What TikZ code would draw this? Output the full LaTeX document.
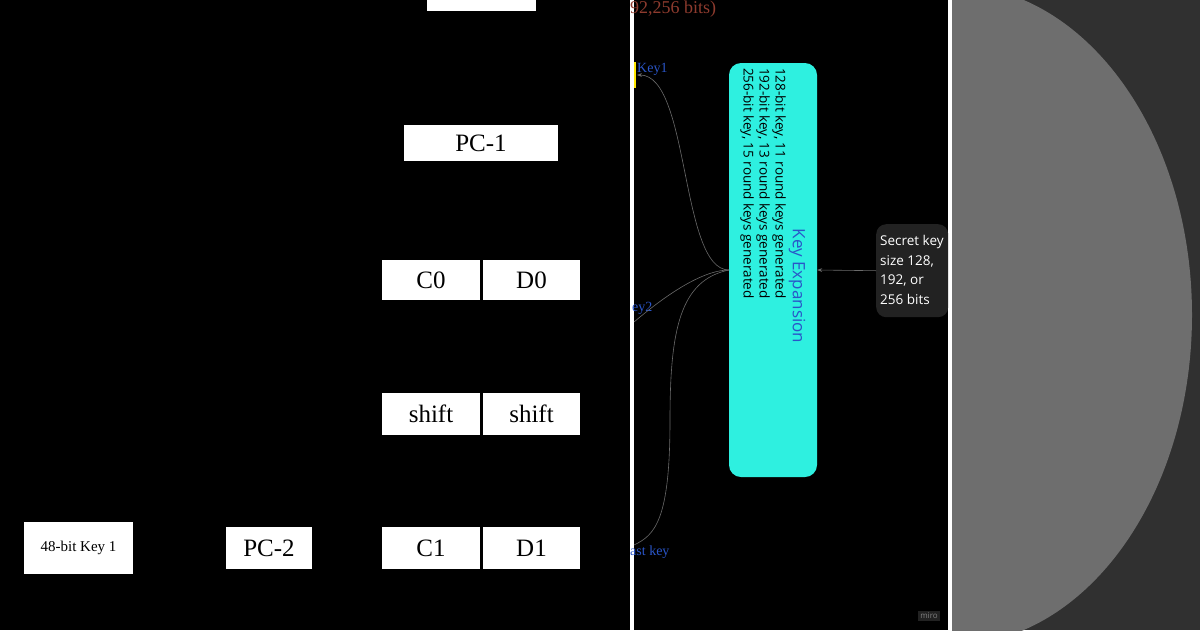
\documentclass[tikz,border=0pt]{standalone}
\usepackage{fontspec}
\setmainfont{Liberation Serif}
\newfontfamily\osans{Open Sans}
\usetikzlibrary{arrows.meta}
\definecolor{cyanbox}{HTML}{2EF0E0}
\definecolor{keyblue}{HTML}{2A55C8}
\definecolor{brownred}{HTML}{8E3B2E}
\definecolor{panelgray}{HTML}{303030}
\definecolor{circgray}{HTML}{6E6E6E}
\definecolor{darkbox}{HTML}{222222}
\definecolor{linegray}{HTML}{6A6A6A}
\tikzset{
  wbox/.style={fill=white, draw=none, inner sep=0pt, font=\fontsize{25}{27}\selectfont},
  klabel/.style={text=keyblue, font=\fontsize{14}{15}\selectfont, inner sep=0pt, anchor=west},
  conn/.style={draw=linegray, line width=0.6pt},
}
\begin{document}
\begin{tikzpicture}[x=1pt,y=-1pt]
\useasboundingbox (0,0) rectangle (1200,630);
\fill[black] (0,0) rectangle (1200,630);
% right panel
\fill[panelgray] (952,0) rectangle (1200,630);
\begin{scope}
\clip (952,0) rectangle (1200,630);
\fill[circgray] (952,315) ellipse [x radius=240, y radius=330];
\end{scope}
\fill[white] (630,0) rectangle (634,630);
\fill[white] (948,0) rectangle (952,630);
% left panel
\node[wbox, minimum width=109pt, minimum height=11pt, anchor=north west] (top) at (427,0) {};
\node[wbox, minimum width=154pt, minimum height=36pt] (pc1) at (481,143) {PC-1};
\node[wbox, minimum width=98pt, minimum height=40pt] (c0) at (431,280) {C0};
\node[wbox, minimum width=97pt, minimum height=40pt] (d0) at (531.5,280) {D0};
\node[wbox, minimum width=98pt, minimum height=42pt] (s1) at (431,414) {shift};
\node[wbox, minimum width=97pt, minimum height=42pt] (s2) at (531.5,414) {shift};
\node[wbox, minimum width=98pt, minimum height=42pt] (c1) at (431,548) {C1};
\node[wbox, minimum width=97pt, minimum height=42pt] (d1) at (531.5,548) {D1};
\node[wbox, minimum width=86pt, minimum height=42pt] (pc2) at (269,548) {PC-2};
\node[wbox, minimum width=109pt, minimum height=52pt, font=\fontsize{15}{16}\selectfont] (k48) at (78.5,548) {48-bit Key 1};
% middle panel
\node[text=brownred, font=\fontsize{18}{19}\selectfont, anchor=west, inner sep=0pt] (bits) at (630,9) {92,256 bits)};
\fill[yellow!90!orange] (634,62) rectangle (636,88);
\node[klabel] (key1) at (637,69) {Key1};
\node[klabel] (key2) at (632,308) {ey2};
\node[klabel] (last) at (630,552) {ast key};
\node[fill=cyanbox, rounded corners=12pt, minimum width=88pt, minimum height=414pt, inner sep=0pt] (ke) at (773,270) {};
\node[rotate=-90, text=keyblue, font=\osans\fontsize{17}{18}\selectfont, inner sep=0pt] (ket) at (797,286) {Key Expansion};
\node[rotate=-90, anchor=north west, align=left, text=black, font=\osans\fontsize{13.5}{16}\selectfont, inner sep=0pt] (desc) at (786,68)
  {128-bit key, 11 round keys generated\\192-bit key, 13 round keys generated\\256-bit key, 15 round keys generated};
\node[fill=darkbox, rounded corners=10pt, minimum width=72pt, minimum height=93pt, anchor=north west, inner sep=0pt] (sk) at (876,224) {};
\node[text=white, align=left, font=\osans\fontsize{13.5}{19.5}\selectfont, anchor=west, inner sep=0pt] (skt) at (880,270) {Secret key\\size 128,\\192, or\\256 bits};
\coordinate (src) at (729,270);
\draw[conn, -{Stealth[length=5pt]}] (sk.west) -- (ke.east);
\draw[conn, -{Stealth[length=5pt]}] (src) .. controls (680,270) and (690,75) .. (637,75);
\draw[conn] (src) .. controls (700,270) and (660,300) .. (634,322);
\draw[conn] (src) .. controls (680,280) and (670,330) .. (670,420) .. controls (670,520) and (655,535) .. (634,545);
\node[fill=darkbox, text=gray, font=\osans\fontsize{8}{9}\selectfont, inner sep=2pt] (miro) at (929,616) {miro};
\end{tikzpicture}
\end{document}
